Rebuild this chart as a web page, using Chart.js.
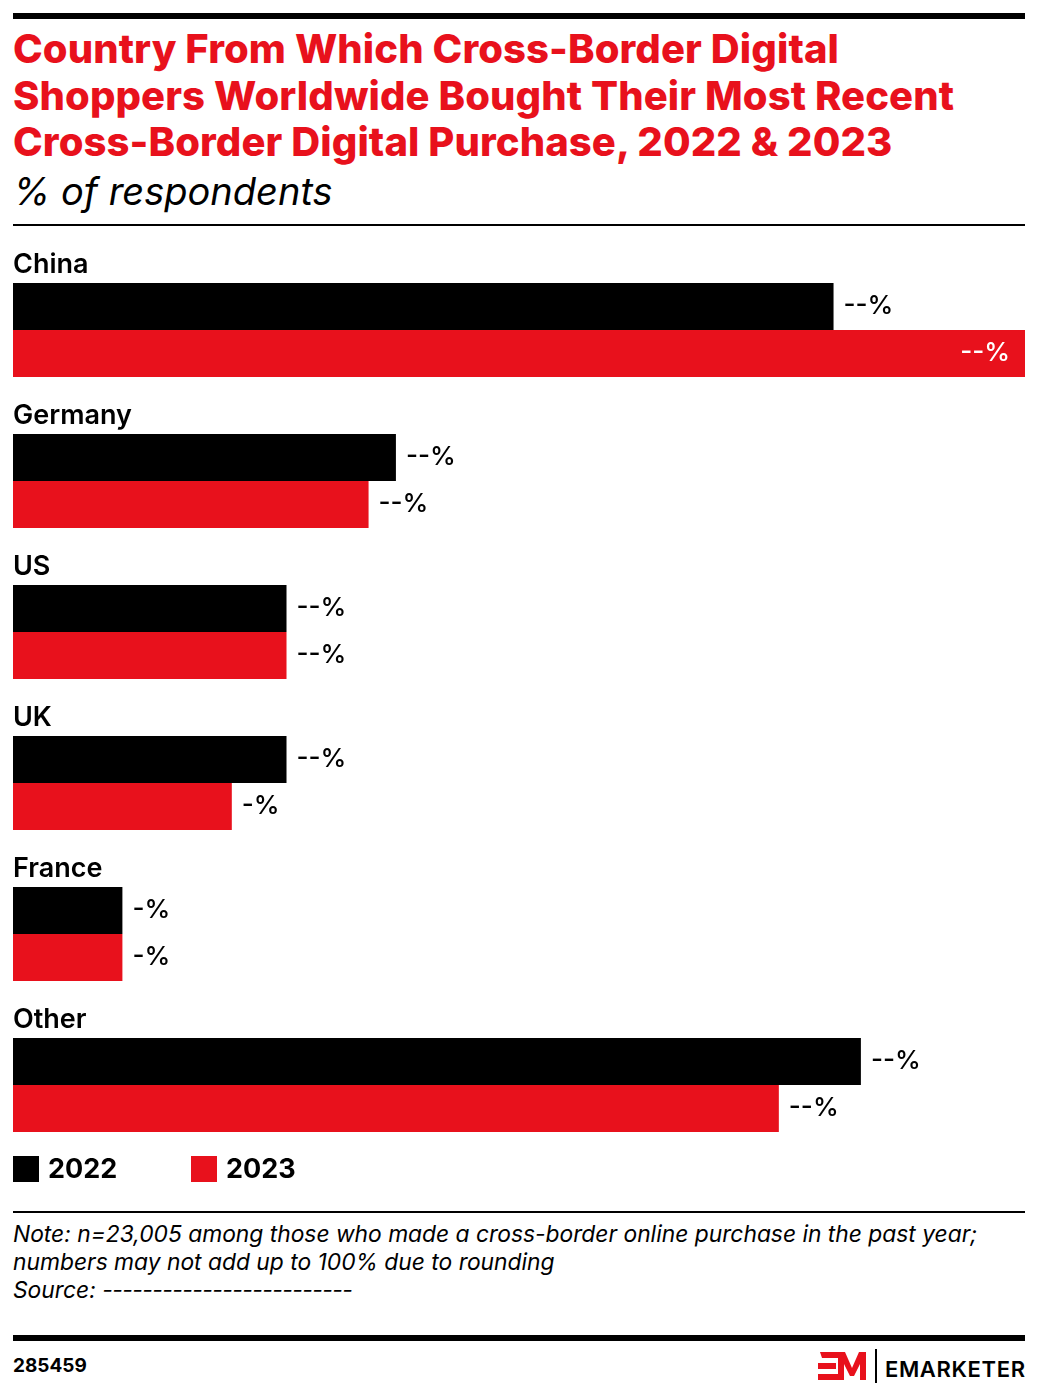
<!DOCTYPE html>
<html>
<head>
    <meta charset="UTF-8">
    <title>Cross-Border Digital Purchase Chart</title>
    <script src="https://cdn.jsdelivr.net/npm/chart.js"></script>
    <style>
        body { margin: 0; background: #fff; font-family: Inter, sans-serif; color: #000; }
        .page { position: relative; width: 1038px; height: 1396px; }
        .topbar { position: absolute; left: 13px; top: 13px; width: 1012px; height: 6px; background: #000; }
        .title { position: absolute; left: 13px; top: 26px; margin: 0; color: #e8111c; font-weight: 800;
                 font-size: 40px; line-height: 46.5px; letter-spacing: 0.1px; }
        .subtitle { position: absolute; left: 13px; top: 169px; margin: 0; font-style: italic; font-weight: 400;
                    font-size: 38px; line-height: 44px; }
        .rule { position: absolute; left: 13px; width: 1012px; height: 2px; background: #000; }
        .chartbox { position: absolute; left: 13px; top: 240px; width: 1012px; height: 930px; }
        .legend { position: absolute; top: 1156px; left: 13px; font-weight: 700; font-size: 27px; }
        .legend span { position: absolute; white-space: nowrap; line-height: 26px; }
        .legend i { display: inline-block; width: 26px; height: 26px; vertical-align: top; margin-right: 9px; }
        .note { position: absolute; left: 13px; top: 1220px; font-style: italic; font-size: 22.8px; line-height: 28px; }
        .dashes { letter-spacing: -0.5px; }
        .footid { position: absolute; left: 13px; top: 1354px; font-weight: 700; font-size: 19px; }
        .logo { position: absolute; left: 816px; top: 1346px; }
    </style>
</head>
<body>
<div class="page">
    <div class="topbar"></div>
    <h1 class="title">Country From Which Cross-Border Digital<br>Shoppers Worldwide Bought Their Most Recent<br>Cross-Border Digital Purchase, 2022 &amp; 2023</h1>
    <div class="subtitle">% of respondents</div>
    <div class="rule" style="top:224px"></div>

    <div class="chartbox"><canvas id="shopChart"></canvas></div>

    <div class="legend">
        <span style="left:0"><i style="background:#000"></i>2022</span>
        <span style="left:178px"><i style="background:#e8111c"></i>2023</span>
    </div>

    <div class="rule" style="top:1211px"></div>
    <div class="note">Note: n=23,005 among those who made a cross-border online purchase in the past year;<br>numbers may not add up to 100% due to rounding<br>Source: <span class="dashes">-------------------------</span></div>

    <div class="topbar" style="top:1335px"></div>
    <div class="footid">285459</div>
    <svg class="logo" width="212" height="40" viewBox="0 0 212 40">
        <polygon points="4,6 22,6 22,12 6,12" fill="#e8111c"/>
        <polygon points="2,17 20,17 20,23 2,23" fill="#e8111c"/>
        <polygon points="2,28 22,28 22,34 2,34" fill="#e8111c"/>
        <polygon points="22,6 29,6 36,22 43,6 50,6 50,34 44,34 44,18 38,30 34,30 28,18 28,34 22,34" fill="#e8111c"/>
        <rect x="59" y="3" width="2" height="34" fill="#000"/>
        <text x="69" y="31" font-family="Inter, sans-serif" font-weight="600" font-size="22" textLength="140" lengthAdjust="spacing" fill="#000">EMARKETER</text>
    </svg>
</div>

<script>
    var countries = ['China', 'Germany', 'US', 'UK', 'France', 'Other'];
    var values2022 = [30, 14, 10, 10, 4, 31];
    var values2023 = [37, 13, 10, 8, 4, 28];
    var xMax = 37;

    var black = '#000000';
    var red = '#e8111c';

    // values are masked in the source, one dash per digit
    function maskLabel(v) {
        return '-'.repeat(String(v).length) + '%';
    }

    var labelPlugin = {
        id: 'groupLabels',
        afterDatasetsDraw: function (chart) {
            var ctx = chart.ctx;
            var yScale = chart.scales.y;
            var area = chart.chartArea;
            ctx.save();
            // category names above each pair of bars
            ctx.fillStyle = '#000';
            ctx.font = '600 27px Inter, sans-serif';
            ctx.textAlign = 'left';
            ctx.textBaseline = 'alphabetic';
            for (var i = 0; i < countries.length; i++) {
                var yc = yScale.getPixelForValue(i);
                ctx.fillText(countries[i], area.left, yc - 57);
            }
            // value labels at the bar ends
            ctx.font = '500 26px Inter, sans-serif';
            ctx.textBaseline = 'middle';
            chart.data.datasets.forEach(function (ds, di) {
                var meta = chart.getDatasetMeta(di);
                meta.data.forEach(function (bar, i) {
                    var txt = maskLabel(ds.data[i]);
                    var w = ctx.measureText(txt).width;
                    if (bar.x + 10 + w > area.right) {
                        ctx.fillStyle = '#fff';
                        ctx.textAlign = 'right';
                        ctx.fillText(txt, bar.x - 15, bar.y);
                    } else {
                        ctx.fillStyle = '#000';
                        ctx.textAlign = 'left';
                        ctx.fillText(txt, bar.x + 10, bar.y);
                    }
                });
            });
            ctx.restore();
        }
    };

    var ctx = document.getElementById('shopChart').getContext('2d');
    var shopChart = new Chart(ctx, {
        type: 'bar',
        data: {
            labels: countries,
            datasets: [
                { label: '2022', data: values2022, backgroundColor: black },
                { label: '2023', data: values2023, backgroundColor: red }
            ]
        },
        options: {
            indexAxis: 'y',
            responsive: true,
            maintainAspectRatio: false,
            animation: false,
            layout: { padding: { top: 14.5, bottom: 9.5, left: 0, right: 0 } },
            datasets: { bar: { categoryPercentage: 94 / 151, barPercentage: 1.0 } },
            scales: {
                x: { display: false, min: 0, max: xMax },
                y: { display: false }
            },
            plugins: {
                legend: { display: false },
                tooltip: { enabled: false }
            }
        },
        plugins: [labelPlugin]
    });
</script>
</body>
</html>
